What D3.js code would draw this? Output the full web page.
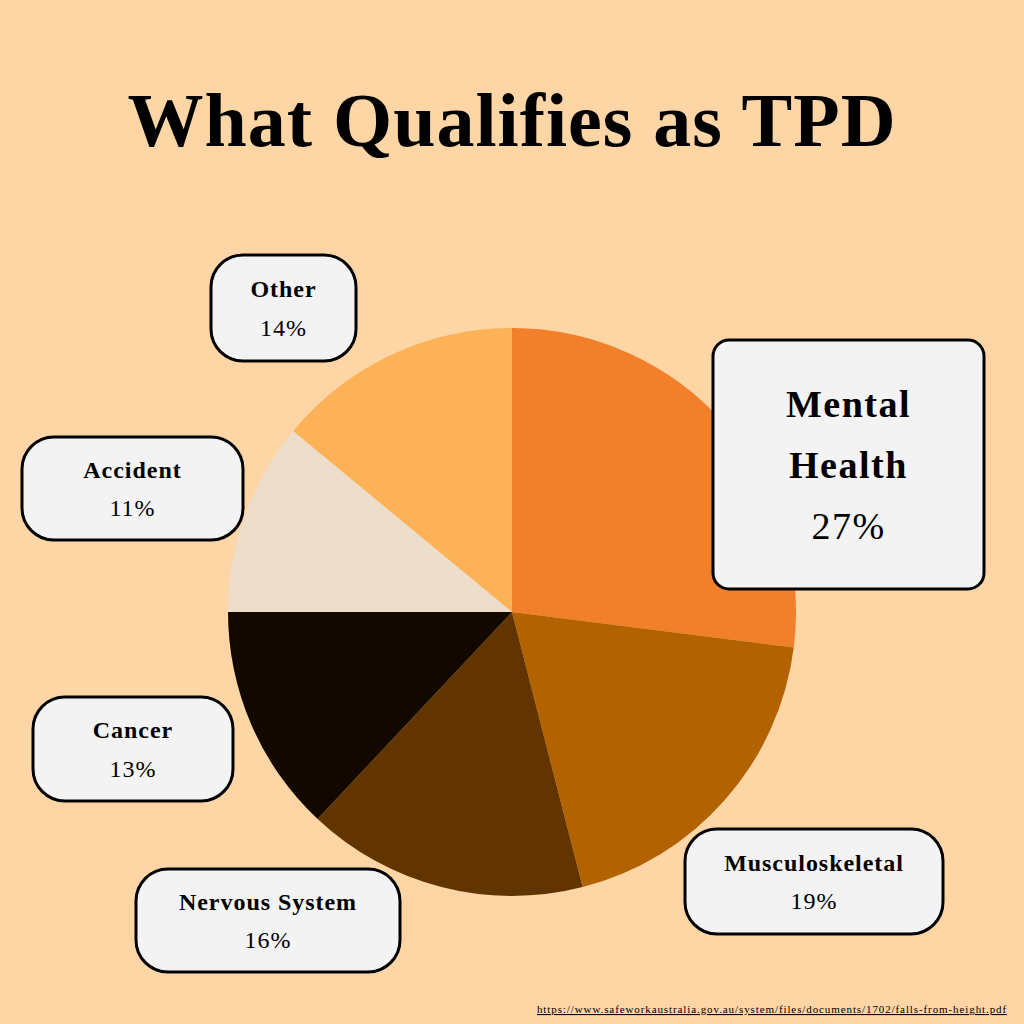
<!DOCTYPE html>
<html><head><meta charset="utf-8">
<script src="https://cdn.jsdelivr.net/npm/d3@7"></script>
<style>body{margin:0;background:#FED5A5}</style></head>
<body><svg id="c" width="1024" height="1024"></svg>
<script>
const categories=["Mental Health","Musculoskeletal","Nervous System","Cancer","Accident","Other"];
const values=[27,19,16,13,11,14];
const colors=["#F27F2A","#B36200","#623500","#120800","#EDDDCB","#FDB257"];
const boxes=[
 {x:713,y:340,w:271,h:249,r:16,fs:38,lines:["Mental","Health","27%"]},
 {x:685,y:829,w:258,h:105,r:32,fs:24,lines:["Musculoskeletal","19%"]},
 {x:136,y:869,w:264,h:103,r:32,fs:24,lines:["Nervous System","16%"]},
 {x:33,y:697,w:200,h:104,r:32,fs:24,lines:["Cancer","13%"]},
 {x:22,y:437,w:221,h:103,r:32,fs:24,lines:["Accident","11%"]},
 {x:211,y:255,w:145,h:106,r:32,fs:24,lines:["Other","14%"]}
];
const svg=d3.select("#c");
svg.append("rect").attr("width",1024).attr("height",1024).attr("fill","#FED5A5");
svg.append("text").attr("x",512).attr("y",146).attr("text-anchor","middle")
 .attr("font-family","Liberation Serif, serif").attr("font-weight","bold").attr("font-size",76)
 .attr("letter-spacing",1).text("What Qualifies as TPD");
const pie=d3.pie().sort(null).value(d=>d)(values);
const arc=d3.arc().innerRadius(0).outerRadius(284);
svg.append("g").attr("transform","translate(512,612)").selectAll("path").data(pie).join("path")
 .attr("d",arc).attr("fill",(d,i)=>colors[i]);
boxes.forEach((b,i)=>{
 const g=svg.append("g");
 g.append("rect").attr("x",b.x).attr("y",b.y).attr("width",b.w).attr("height",b.h).attr("rx",b.r)
  .attr("fill","#F3F3F3").attr("stroke","#000").attr("stroke-width",3);
 const lh=b.fs*1.6, n=b.lines.length, cy=b.y+b.h/2;
 b.lines.forEach((l,j)=>{
  g.append("text").attr("x",b.x+b.w/2).attr("y",cy+(j-(n-1)/2)*lh+b.fs*0.35)
   .attr("text-anchor","middle").attr("font-family","Liberation Serif, serif")
   .attr("font-weight",j<n-1?"bold":"normal").attr("letter-spacing",b.fs*0.04)
   .attr("font-size",b.fs).text(l);
 });
});
svg.append("text").attr("x",1007).attr("y",1013).attr("text-anchor","end")
 .attr("font-family","Liberation Serif, serif").attr("font-size",11).attr("letter-spacing",0.9)
 .attr("text-decoration","underline")
 .text("https://www.safeworkaustralia.gov.au/system/files/documents/1702/falls-from-height.pdf");
</script></body></html>
